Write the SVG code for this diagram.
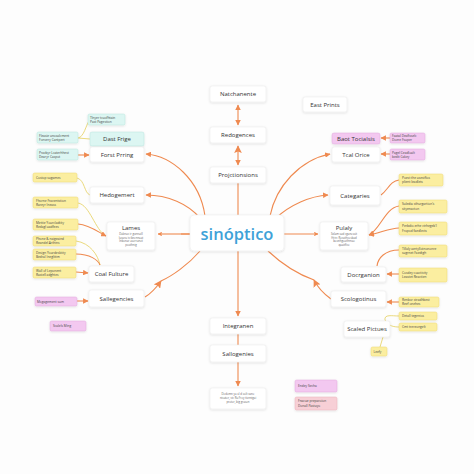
<svg xmlns="http://www.w3.org/2000/svg" width="474" height="474" viewBox="0 0 474 474">
<style>
.bx{fill:#ffffff;stroke:#ececec;stroke-width:0.6;filter:url(#sh)}
.cy{fill:#dcf6f2;stroke:#b8e6df;stroke-width:0.5;filter:url(#sh)}
.pk{fill:#f3c8f0;stroke:#e3a8de;stroke-width:0.5;filter:url(#sh)}
.rs{fill:#f7cfd6;stroke:#eab0ba;stroke-width:0.5;filter:url(#sh)}
.yl{fill:#fbeea0;stroke:#efd870;stroke-width:0.5;filter:url(#sh)}
.t{font-family:"Open Sans","Liberation Sans",sans-serif;font-size:6px;fill:#333;text-anchor:middle}
.s{font-family:"Open Sans","Liberation Sans",sans-serif;font-size:3.2px;fill:#444}
.m{font-family:"Open Sans","Liberation Sans",sans-serif;font-size:2.8px;fill:#666;text-anchor:middle}
.c{fill:none;stroke:#ef8a50;stroke-width:1.1}
.cy2{fill:none;stroke:#e8d56e;stroke-width:0.9}
.a{marker-end:url(#ah)}
</style>
<defs>
<filter id="sh" x="-20%" y="-30%" width="140%" height="170%"><feDropShadow dx="0" dy="0.8" stdDeviation="0.8" flood-color="#000" flood-opacity="0.12"/></filter>
<marker id="ah" viewBox="0 0 10 10" refX="9" refY="5" markerWidth="5" markerHeight="5" orient="auto-start-reverse" markerUnits="strokeWidth"><path d="M0,0 L10,5 L0,10 z" fill="#ef8a50"/></marker>
<marker id="al" viewBox="0 0 10 10" refX="9" refY="5" markerWidth="7" markerHeight="7" orient="auto-start-reverse" markerUnits="strokeWidth"><path d="M0,0 L10,5 L0,10 L2,5 z" fill="#ef8a50"/></marker>
<marker id="ab" viewBox="0 0 10 10" refX="9" refY="5" markerWidth="4.2" markerHeight="4.2" orient="auto-start-reverse" markerUnits="strokeWidth"><path d="M0,0 L10,5 L0,10 L2,5 z" fill="#ef8a50"/></marker>
</defs>
<rect width="474" height="474" fill="#fdfdfd"/>
<g id="connectors">
<line class="c" x1="238" y1="105" x2="238" y2="125" marker-start="url(#ah)" marker-end="url(#ah)"/>
<line class="c" x1="238" y1="146" x2="238" y2="165" marker-start="url(#al)" marker-end="url(#ah)"/>
<line class="c" x1="238" y1="183" x2="238" y2="215"/>
<line class="c a" x1="238" y1="251" x2="238" y2="316"/>
<line class="c" x1="238" y1="334" x2="238" y2="345"/>
<line class="c a" x1="238" y1="362" x2="238" y2="386"/>
<line class="c" x1="181" y1="234" x2="190" y2="234"/>
<line class="c" stroke-width="2.4" x1="190" y1="234" x2="158" y2="234" marker-end="url(#ab)"/>
<line class="c" stroke-width="2.4" x1="284" y1="234" x2="318" y2="234" marker-end="url(#ab)"/>
<path class="c a" d="M205,216 C200,180 172,156 146,154"/>
<path class="c a" d="M200,218 C188,204 168,195 146,195"/>
<path class="c" d="M200,251 C188,265 172,276 161,281"/>
<path class="c" d="M145,297 C152,293 156,288 161,281" marker-end="url(#al)" stroke-width="1.2"/>
<path class="c a" d="M270,216 C276,186 300,160 330,154"/>
<path class="c a" d="M276,218 C290,205 310,196 328,195"/>
<path class="c" d="M268,251 C284,266 300,275 314,280"/>
<path class="c" d="M331,299 C324,294 318,288 314,280" marker-end="url(#al)" stroke-width="1.2"/>
<path class="cy2" d="M78,138 L90,139"/>
<path class="cy2" d="M78,138 C84,137 86,125 89,121"/>
<path class="c a" d="M78,155 L89,155"/>
<path class="cy2" d="M77,178 C85,180 84,193 90,195"/>
<path class="cy2" d="M78,203 C90,205 95,230 106,236"/>
<path class="c a" d="M78,224 C90,225 98,232 106,236"/>
<path class="cy2" d="M76,241 C90,243 98,255 100,265"/>
<path class="c" d="M76,254 C90,254 98,260 100,265"/>
<path class="c a" d="M76,272 L88,273"/>
<path class="c a" d="M77,301 L88,301"/>
<path class="c a" d="M390,138 L381,138"/>
<path class="c a" d="M390,154 L381,154"/>
<path class="c" d="M381,195 C388,190 390,181 399,180"/>
<path class="c a" d="M399,206 C385,208 380,230 369,235"/>
<path class="c a" d="M399,228 C390,228 380,233 369,235"/>
<path class="c" d="M399,250 C385,250 378,258 377,266"/>
<path class="c a" d="M399,274 L387,274"/>
<path class="c a" d="M399,302 L387,302"/>
<path class="cy2" d="M385,320 C384,314 392,316 399,316"/>
<path class="cy2" d="M385,320 C388,326 394,327 399,327"/>
<path class="cy2" d="M383,337 L380,347"/>
</g>
<g id="n-center"><rect class="bx" x="190" y="215" width="94" height="36" rx="4"/><text x="237" y="239.5" font-family="'Open Sans','Liberation Sans',sans-serif" font-size="16.5" font-weight="600" fill="#3ea2d8" text-anchor="middle">sinóptico</text></g>
<g id="n-natch"><rect class="bx" x="210" y="86" width="56" height="16" rx="2"/><text class="t" x="238" y="96">Natchanente</text></g>
<g id="n-redog"><rect class="bx" x="210" y="127" width="56" height="16" rx="2"/><text class="t" x="238" y="137">Redogences</text></g>
<g id="n-projc"><rect class="bx" x="210" y="167" width="56" height="16" rx="2"/><text class="t" x="238" y="177">Projctionsions</text></g>
<g id="n-integ"><rect class="bx" x="210" y="318" width="56" height="16" rx="2"/><text class="t" x="238" y="328">Integranen</text></g>
<g id="n-sallo"><rect class="bx" x="210" y="345" width="56" height="17" rx="2"/><text class="t" x="238" y="355.5">Sallogenies</text></g>
<g id="n-desc"><rect class="bx" x="210" y="388" width="56" height="21" rx="2"/><text class="m" x="238" y="395">Dedemn ya ol d solt vane</text><text class="m" x="238" y="399">nisuter, vic Ru Frey tisnnigai</text><text class="m" x="238" y="403">proter, big grasen</text></g>
<g id="n-east"><rect class="bx" x="303" y="97" width="44" height="15" rx="2"/><text class="t" x="325" y="106.5">East Prints</text></g>
<g id="n-baot"><rect class="pk" x="332" y="133" width="48" height="11" rx="2"/><text class="t" x="356" y="140.5">Baot Tocialsis</text></g>
<g id="n-tcal"><rect class="bx" x="332" y="147" width="48" height="15" rx="2"/><text class="t" x="356" y="156.5">Tcal Orice</text></g>
<g id="n-categ"><rect class="bx" x="330" y="186" width="50" height="19" rx="2"/><text class="t" x="355" y="197.5">Categaries</text></g>
<g id="n-pulaly"><rect class="bx" x="320" y="222" width="48" height="28" rx="2"/><text class="t" x="344" y="230">Pulaly</text><text class="m" x="344" y="235">Sxlam sud cganessit</text><text class="m" x="344" y="238.5">Hrirc Recuthcesbad</text><text class="m" x="344" y="242">beonhgeathrnae</text><text class="m" x="344" y="245.5">quaitfice</text></g>
<g id="n-docrg"><rect class="bx" x="341" y="267" width="45" height="15" rx="2"/><text class="t" x="363.5" y="276.5">Docrganion</text></g>
<g id="n-scolo"><rect class="bx" x="331" y="291" width="55" height="16" rx="2"/><text class="t" x="358.5" y="301">Scologotinus</text></g>
<g id="n-scaled"><rect class="bx" x="344" y="321" width="46" height="16" rx="2"/><text class="t" x="367" y="331">Scaled Pictues</text></g>
<g id="n-dast"><rect class="cy" x="90" y="132" width="54" height="14" rx="2"/><text class="t" x="117" y="141">Dast Frige</text></g>
<g id="n-forst"><rect class="bx" x="90" y="147" width="54" height="15" rx="2"/><text class="t" x="117" y="156.5">Forst Prring</text></g>
<g id="n-hedog"><rect class="bx" x="90" y="187" width="54" height="16" rx="2"/><text class="t" x="117" y="197">Hedogemert</text></g>
<g id="n-lames"><rect class="bx" x="107" y="222" width="48" height="28" rx="2"/><text class="t" x="131" y="230">Lames</text><text class="m" x="131" y="235">Daknuc ir gonnaill</text><text class="m" x="131" y="238.5">luvaru iv ibrennaat</text><text class="m" x="131" y="242">Inbenar aserranet</text><text class="m" x="131" y="245.5">posthnig</text></g>
<g id="n-coal"><rect class="bx" x="89" y="266" width="45" height="16" rx="2"/><text class="t" x="111.5" y="276">Coal Fulture</text></g>
<g id="n-salle"><rect class="bx" x="89" y="290" width="55" height="17" rx="2"/><text class="t" x="116.5" y="300.5">Sallegencies</text></g>
<g id="notes-left">
<g id="nt1"><rect class="cy" x="88" y="114" width="37" height="11" rx="1.5"/><text class="s" x="90" y="118.5">Tlnyer tcuofhtain</text><text class="s" x="90" y="122.5">Past Pagestion</text></g>
<g id="nt2"><rect class="cy" x="37" y="132" width="41" height="11" rx="1.5"/><text class="s" x="39" y="136.5">Fleasie unosalcment</text><text class="s" x="39" y="140.5">Fonvery Cantpert</text></g>
<g id="nt3"><rect class="cy" x="37" y="149" width="41" height="11" rx="1.5"/><text class="s" x="39" y="153.5">Pravbyr Lcaterhhest</text><text class="s" x="39" y="157.5">Dearyr Caspot</text></g>
<g id="nt4"><rect class="yl" x="33" y="173" width="44" height="9" rx="1.5"/><text class="s" x="36" y="178.8">Costop sugames</text></g>
<g id="nt5"><rect class="yl" x="33" y="197" width="45" height="11" rx="1.5"/><text class="s" x="36" y="201.5">Fhorne Fraventstion</text><text class="s" x="36" y="205.5">Rareyr Ineass</text></g>
<g id="nt6"><rect class="yl" x="33" y="219" width="45" height="11" rx="1.5"/><text class="s" x="36" y="223.5">Mettie Yourcladtity</text><text class="s" x="36" y="227.5">Redagl uadfees</text></g>
<g id="nt7"><rect class="yl" x="33" y="236" width="43" height="10" rx="1.5"/><text class="s" x="36" y="240">Phone &amp; naigeaind</text><text class="s" x="36" y="244">Reandel Arthins</text></g>
<g id="nt8"><rect class="yl" x="33" y="249" width="43" height="11" rx="1.5"/><text class="s" x="36" y="253.5">Design Yourdesktity</text><text class="s" x="36" y="257.5">Bedral Ineglittm</text></g>
<g id="nt9"><rect class="yl" x="33" y="267" width="43" height="11" rx="1.5"/><text class="s" x="36" y="271.5">Wall of Leponent</text><text class="s" x="36" y="275.5">Rastell adghtes</text></g>
<g id="nt10"><rect class="pk" x="35" y="297" width="42" height="9" rx="1.5"/><text class="s" x="37" y="302.8">Mogagement sum</text></g>
<g id="nt11"><rect class="pk" x="50" y="321" width="36" height="10" rx="1.5"/><text class="s" x="53" y="327.3">Scalels Ming</text></g>
</g>
<g id="notes-right">
<g id="nr1"><rect class="pk" x="390" y="133" width="35" height="10" rx="1.5"/><text class="s" x="392" y="137.3">Faatal Deafisselc</text><text class="s" x="392" y="141">Doere Fsuper</text></g>
<g id="nr2"><rect class="pk" x="390" y="149" width="35" height="11" rx="1.5"/><text class="s" x="392" y="153.5">Pagel Ceadloalt</text><text class="s" x="392" y="157.5">bedit Cakey</text></g>
<g id="nr3"><rect class="yl" x="399" y="174" width="44" height="12" rx="1.5"/><text class="s" x="402" y="179">Poest the usestfios</text><text class="s" x="402" y="183">plient leadlets</text></g>
<g id="nr4"><rect class="yl" x="399" y="200" width="48" height="13" rx="1.5"/><text class="s" x="402" y="205">Suledia sthurgartion's</text><text class="s" x="402" y="209.5">sityenacton</text></g>
<g id="nr5"><rect class="yl" x="399" y="222" width="48" height="13" rx="1.5"/><text class="s" x="402" y="227">Perbdio erhe ctrhegeb'l</text><text class="s" x="402" y="231.5">Fropod faedlects</text></g>
<g id="nr6"><rect class="yl" x="399" y="245" width="48" height="12" rx="1.5"/><text class="s" x="402" y="250">Tillaly aertyllotnononre</text><text class="s" x="402" y="254">sugrnet Faedtgh</text></g>
<g id="nr7"><rect class="yl" x="399" y="268" width="48" height="14" rx="1.5"/><text class="s" x="402" y="273.5">Cosdey coactivity</text><text class="s" x="402" y="277.5">Leastet Reactien</text></g>
<g id="nr8"><rect class="yl" x="399" y="297" width="40" height="10" rx="1.5"/><text class="s" x="402" y="301.3">Renbor stradhbest</text><text class="s" x="402" y="305">Reef onehes</text></g>
<g id="nr9"><rect class="yl" x="399" y="312" width="38" height="8" rx="1.5"/><text class="s" x="402" y="317.2">Detall tegenios</text></g>
<g id="nr10"><rect class="yl" x="399" y="323" width="38" height="8" rx="1.5"/><text class="s" x="402" y="328.2">Cmt trereongelt</text></g>
<g id="nr11"><rect class="yl" x="371" y="347" width="16" height="9" rx="1.5"/><text class="s" x="373.5" y="352.7">Leefy</text></g>
<g id="nb1"><rect class="pk" x="295" y="380" width="42" height="12" rx="1.5"/><text class="s" x="298" y="387.2">Endey Secha</text></g>
<g id="nb2"><rect class="rs" x="295" y="397" width="42" height="13" rx="1.5"/><text class="s" x="298" y="402">Fnacue preparoion</text><text class="s" x="298" y="406.5">Donall Pastuyo</text></g>
</g>
</svg>
